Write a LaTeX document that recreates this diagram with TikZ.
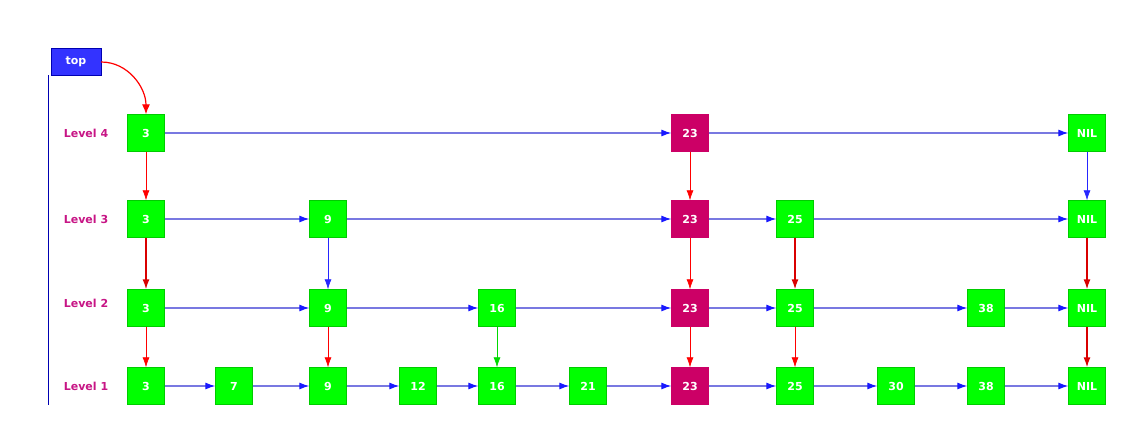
\documentclass[tikz,border=0pt]{standalone}
\usepackage{fontspec}
\setmainfont{DejaVu Sans}
\usetikzlibrary{arrows.meta}
\begin{document}
\begin{tikzpicture}[x=1pt,y=-1pt,
  nd/.style={fill=green!100,draw=green!80!black,line width=0.3pt,minimum width=37pt,minimum height=37pt,inner sep=0pt,text=white,font=\bfseries\fontsize{11}{12}\selectfont},
  hn/.style={nd,fill={rgb,255:red,204;green,0;blue,102},draw={rgb,255:red,204;green,0;blue,102}},
  lvl/.style={text={rgb,255:red,199;green,21;blue,133},font=\bfseries\fontsize{11}{12}\selectfont},
  hz/.style={draw={rgb,255:red,120;green,120;blue,225},line width=1.1pt,-{Latex[length=10pt,width=7pt,color=blue!90!white]}},
  rd/.style={red,line width=0.7pt,-{Latex[length=10pt,width=7pt]}},
  rdk/.style={red!85!black,line width=1.4pt,-{Latex[length=10pt,width=7pt]}},
  bl/.style={blue!85!white,line width=0.7pt,-{Latex[length=10pt,width=7pt]}},
  gr/.style={green!85!black,line width=0.7pt,-{Latex[length=10pt,width=7pt]}}]
\useasboundingbox (0,0) rectangle (1142,437);
\node[fill=blue!80!white,draw=blue!70!black,minimum width=50pt,minimum height=27pt,inner sep=0pt,text=white,font=\bfseries\fontsize{11}{12}\selectfont] (top) at (76,62) {top};
\coordinate (vs) at (48,75);
\coordinate (ve) at (48,405);
\draw[blue!70!black,line width=0.8pt] (vs) -- (ve);
\node[lvl] (l4) at (86,133) {Level 4};
\node[lvl] (l3) at (86,219) {Level 3};
\node[lvl] (l2) at (86,303) {Level 2};
\node[lvl] (l1) at (86,386) {Level 1};
% level 4
\node[nd] (a3) at (146,133) {3};
\node[hn] (a23) at (690,133) {23};
\node[nd] (anil) at (1087,133) {NIL};
% level 3
\node[nd] (b3) at (146,219) {3};
\node[nd] (b9) at (328,219) {9};
\node[hn] (b23) at (690,219) {23};
\node[nd] (b25) at (795,219) {25};
\node[nd] (bnil) at (1087,219) {NIL};
% level 2
\node[nd] (c3) at (146,308) {3};
\node[nd] (c9) at (328,308) {9};
\node[nd] (c16) at (497,308) {16};
\node[hn] (c23) at (690,308) {23};
\node[nd] (c25) at (795,308) {25};
\node[nd] (c38) at (986,308) {38};
\node[nd] (cnil) at (1087,308) {NIL};
% level 1
\node[nd] (d3) at (146,386) {3};
\node[nd] (d7) at (234,386) {7};
\node[nd] (d9) at (328,386) {9};
\node[nd] (d12) at (418,386) {12};
\node[nd] (d16) at (497,386) {16};
\node[nd] (d21) at (588,386) {21};
\node[hn] (d23) at (690,386) {23};
\node[nd] (d25) at (795,386) {25};
\node[nd] (d30) at (896,386) {30};
\node[nd] (d38) at (986,386) {38};
\node[nd] (dnil) at (1087,386) {NIL};
\draw[red,line width=1.2pt,-{Latex[length=10pt,width=8pt]}] (top.east) to[out=0,in=90] (a3.north);
\foreach \u/\v in {a3/a23,a23/anil,b3/b9,b9/b23,b23/b25,b25/bnil,c3/c9,c9/c16,c16/c23,c23/c25,c25/c38,c38/cnil,d3/d7,d7/d9,d9/d12,d12/d16,d16/d21,d21/d23,d23/d25,d25/d30,d30/d38,d38/dnil}
  \draw[hz] (\u) -- (\v);
\draw[rd] (a3) -- (b3);
\draw[rdk] (b3) -- (c3);
\draw[rd] (c3) -- (d3);
\draw[bl] (b9) -- (c9);
\draw[rd] (c9) -- (d9);
\draw[gr] (c16) -- (d16);
\draw[rd] (a23) -- (b23);
\draw[rd] (b23) -- (c23);
\draw[rd] (c23) -- (d23);
\draw[rdk] (b25) -- (c25);
\draw[rd] (c25) -- (d25);
\draw[bl] (anil) -- (bnil);
\draw[rdk] (bnil) -- (cnil);
\draw[rdk] (cnil) -- (dnil);
\end{tikzpicture}
\end{document}
